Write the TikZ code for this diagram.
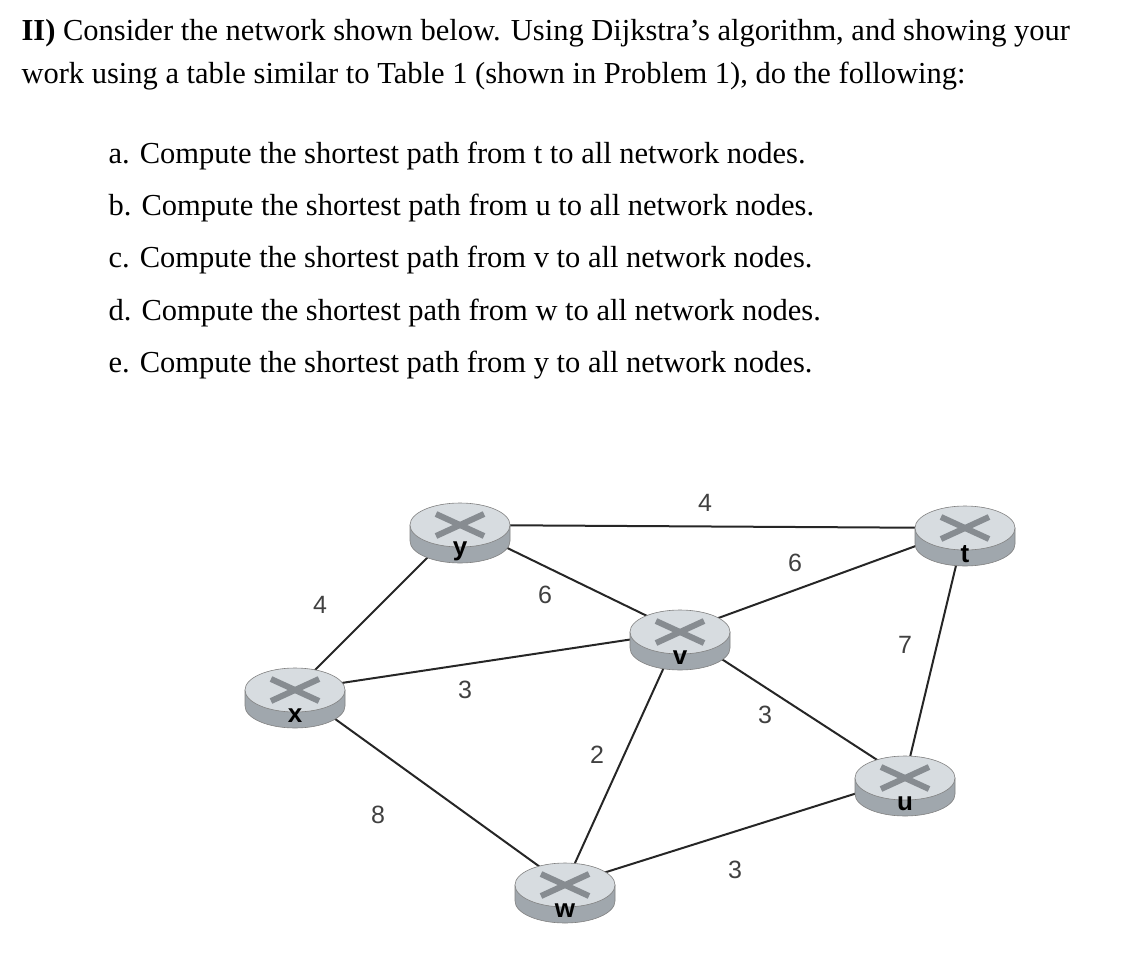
\documentclass[tikz,border=0pt]{standalone}
\usepackage{fontspec}
\setmainfont{Liberation Serif}
\newfontfamily\sansf{Liberation Sans}
\usetikzlibrary{positioning}
\definecolor{routertop}{RGB}{215,220,224}
\definecolor{routerside}{RGB}{160,167,173}
\definecolor{crossgray}{RGB}{135,140,145}
\tikzset{
  line/.style={line width=2pt, black!85},
  weight/.style={font=\sansf\fontsize{25}{25}\selectfont, text=black!75},
  task/.style={anchor=west, font=\fontsize{30.5}{34}\selectfont},
}
\newcommand{\routerbox}[2]{%
  \begin{scope}[shift={(#1)}]
    \fill[routerside, draw=black!50, line width=0.6pt] (-50,0) -- (-50,16) arc[start angle=180, end angle=0, x radius=50, y radius=22] -- (50,0) -- cycle;
    \fill[routertop, draw=black!50, line width=0.6pt] (0,0) ellipse[x radius=50, y radius=22];
    \draw[crossgray, line width=6pt] (-24,-11) -- (24,11) (-24,11) -- (24,-11);
    \node[font=\sansf\bfseries\fontsize{26}{26}\selectfont] at (0,26) {#2};
  \end{scope}}
\begin{document}
\begin{tikzpicture}[x=1pt, y=-1pt]
  \useasboundingbox (0,0) rectangle (1124,961);
  % problem text
  \node[task] (head) at (18,33) {\textbf{II)} Consider the network shown below. Using Dijkstra's algorithm, and showing your};
  \node[task] (head2) at (18,76) {work using a table similar to Table 1 (shown in Problem 1), do the following:};
  \node[task] (qa) at (105,156) {a. Compute the shortest path from t to all network nodes.};
  \node[task] (qb) at (105,208) {b. Compute the shortest path from u to all network nodes.};
  \node[task] (qc) at (105,260) {c. Compute the shortest path from v to all network nodes.};
  \node[task] (qd) at (105,313) {d. Compute the shortest path from w to all network nodes.};
  \node[task] (qe) at (105,365) {e. Compute the shortest path from y to all network nodes.};
  % router positions
  \coordinate (y) at (460,525);
  \coordinate (t) at (965,528);
  \coordinate (v) at (680,632);
  \coordinate (x) at (295,690);
  \coordinate (u) at (905,778);
  \coordinate (w) at (565,885);
  % links
  \draw[line] (y) -- (t);
  \draw[line] (y) -- (v);
  \draw[line] (x) -- (y);
  \draw[line] (x) -- (v);
  \draw[line] (v) -- (t);
  \draw[line] (t) -- (u);
  \draw[line] (v) -- (u);
  \draw[line] (v) -- (w);
  \draw[line] (x) -- (w);
  \draw[line] (w) -- (u);
  % weights
  \node[weight] (cyt) at (705,503) {4};
  \node[weight] (cyv) at (545,595) {6};
  \node[weight] (cxy) at (320,605) {4};
  \node[weight] (cxv) at (465,690) {3};
  \node[weight] (cvt) at (795,563) {6};
  \node[weight] (ctu) at (905,645) {7};
  \node[weight] (cvu) at (765,715) {3};
  \node[weight] (cvw) at (597,755) {2};
  \node[weight] (cxw) at (378,815) {8};
  \node[weight] (cwu) at (735,870) {3};
  % routers
  \routerbox{y}{y}
  \routerbox{t}{t}
  \routerbox{v}{v}
  \routerbox{x}{x}
  \routerbox{u}{u}
  \routerbox{w}{w}
\end{tikzpicture}
\end{document}
